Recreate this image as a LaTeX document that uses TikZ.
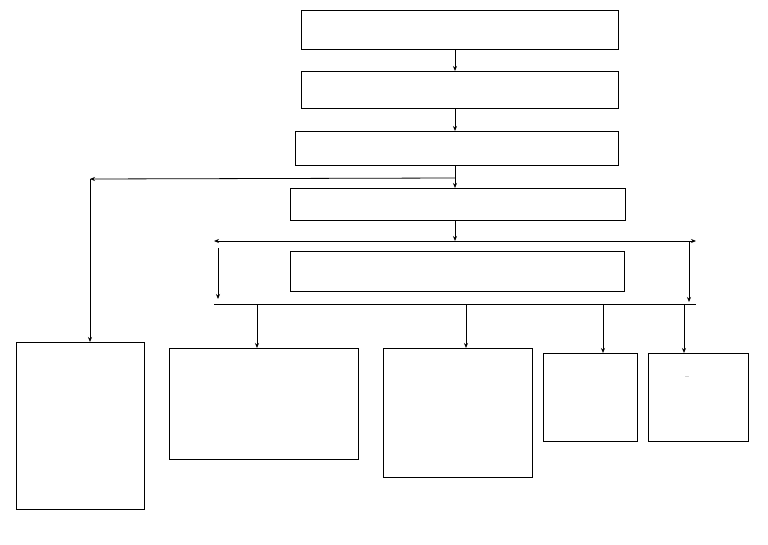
\documentclass[tikz,border=0pt]{standalone}
\usetikzlibrary{arrows.meta}
\begin{document}
\begin{tikzpicture}[x=1pt,y=-1pt,line width=0.8pt,
  bx/.style={draw,rectangle},
  ar/.style={-{Stealth[length=5pt,width=4pt]}}]
\useasboundingbox (0,0) rectangle (768,544);
\draw[bx] (301,10) rectangle (618,49) coordinate (b1e);
\coordinate (b1) at (455,49);
\draw[bx] (301,71) rectangle (618,108);
\draw[bx] (295,131) rectangle (618,165);
\draw[bx] (290,188) rectangle (625,220);
\draw[bx] (290,251) rectangle (624,291);
\draw[bx] (16,342) rectangle (144,509);
\draw[bx] (169,348) rectangle (358,459);
\draw[bx] (383,348) rectangle (532,477);
\draw[bx] (543,353) rectangle (637,441);
\draw[bx] (648,353) rectangle (748,441);
\node (d) at (687,378) {\scriptsize --};
\coordinate (a1) at (455,49); \coordinate (a2) at (455,71);
\coordinate (a3) at (455,108); \coordinate (a4) at (455,131);
\coordinate (a5) at (455,165); \coordinate (a6) at (455,188);
\coordinate (a7) at (455,220); \coordinate (a8) at (455,241);
\coordinate (sp) at (455,178); \coordinate (lt) at (90,179);
\coordinate (lb) at (90,342);
\draw[ar] (a1) -- (a2);
\draw[ar] (a3) -- (a4);
\draw[ar] (a5) -- (a6);
\draw[ar] (sp) -- (lt);
\draw[ar] (lt) -- (lb);
\draw[ar] (a7) -- (a8);
\coordinate (hl) at (214,241); \coordinate (hr) at (696,241);
\draw[{Stealth[length=5pt,width=4pt]}-{Stealth[length=5pt,width=4pt]}] (hl) -- (hr);
\coordinate (h2l) at (214,304); \coordinate (h2r) at (696,304);
\draw (h2l) -- (h2r);
\draw[ar] (218,248) -- (218,299);
\draw[ar] (689,241) -- (689,302);
\draw[ar] (257,304) -- (257,348);
\draw[ar] (466,304) -- (466,348);
\draw[ar] (603,304) -- (603,353);
\draw[ar] (684,304) -- (684,353);
\end{tikzpicture}
\end{document}
